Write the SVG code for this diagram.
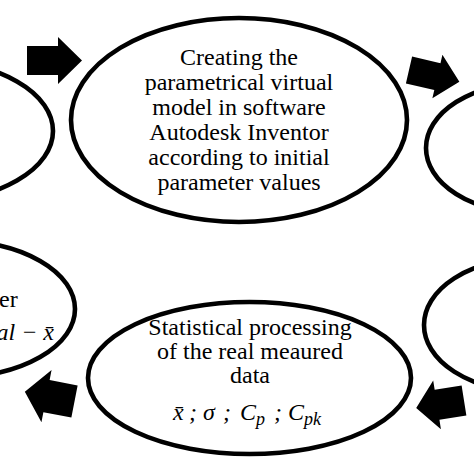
<svg xmlns="http://www.w3.org/2000/svg" xmlns:xlink="http://www.w3.org/1999/xlink" width="474" height="474" viewBox="0 0 474 474">
  <style>
    .node { fill: #ffffff; stroke: #000000; stroke-width: 4.6; }
    .label { font-family: "Liberation Serif", "Times New Roman", serif; font-size: 24px; fill: #000000; text-anchor: middle; }
    .math { font-family: "Liberation Serif", "Times New Roman", serif; font-style: italic; font-size: 24px; fill: #000000; }
    .sub { font-size: 18px; }
    .arrow { fill: #000000; }
  </style>
  <defs>
    <path id="blockArrow" d="M0,-14.5 H31 V-23.5 L55,0 L31,23.5 V14.5 H0 Z"/>
  </defs>
  <rect width="474" height="474" fill="#ffffff"/>

  <g id="node-left-top">
    <ellipse class="node" cx="-70" cy="131" rx="123" ry="70"/>
  </g>

  <g id="node-top">
    <ellipse class="node" cx="239" cy="120" rx="168" ry="102"/>
    <text class="label" x="239" y="65">Creating the</text>
    <text class="label" x="239" y="90">parametrical virtual</text>
    <text class="label" x="239" y="115">model in software</text>
    <text class="label" x="239" y="140">Autodesk Inventor</text>
    <text class="label" x="239" y="165">according to initial</text>
    <text class="label" x="239" y="190">parameter values</text>
  </g>

  <g id="node-right-top">
    <ellipse class="node" cx="529" cy="148" rx="103" ry="65"/>
  </g>

  <g id="node-right-bottom">
    <ellipse class="node" cx="527" cy="325" rx="103" ry="66"/>
  </g>

  <g id="node-bottom">
    <ellipse class="node" cx="249.5" cy="378" rx="161.5" ry="76"/>
    <text class="label" x="250" y="335">Statistical processing</text>
    <text class="label" x="250" y="359">of the real meaured</text>
    <text class="label" x="250" y="383">data</text>
    <text class="math" y="420"><tspan x="173">x̄</tspan><tspan x="189">;</tspan><tspan x="203">σ</tspan><tspan x="223">;</tspan><tspan x="240">C</tspan><tspan class="sub" x="256" dy="5">p</tspan><tspan x="274" dy="-5">;</tspan><tspan x="288">C</tspan><tspan class="sub" x="304" dy="5">pk</tspan></text>
  </g>

  <g id="node-left-bottom">
    <ellipse class="node" cx="-44" cy="309" rx="119" ry="68"/>
    <text class="label" x="-1" y="307" style="text-anchor:start">er</text>
    <text class="math" x="54" y="340" style="text-anchor:end">al − x̄</text>
  </g>

  <g id="connectors">
    <use xlink:href="#blockArrow" class="arrow" transform="translate(27,60.5)"/>
    <use xlink:href="#blockArrow" class="arrow" transform="translate(409,70) rotate(13) scale(0.94,0.95)"/>
    <use xlink:href="#blockArrow" class="arrow" transform="translate(464,400.5) rotate(171) scale(0.88,1.05)"/>
    <use xlink:href="#blockArrow" class="arrow" transform="translate(74.5,401.5) rotate(191) scale(0.92,1.13)"/>
  </g>
</svg>
